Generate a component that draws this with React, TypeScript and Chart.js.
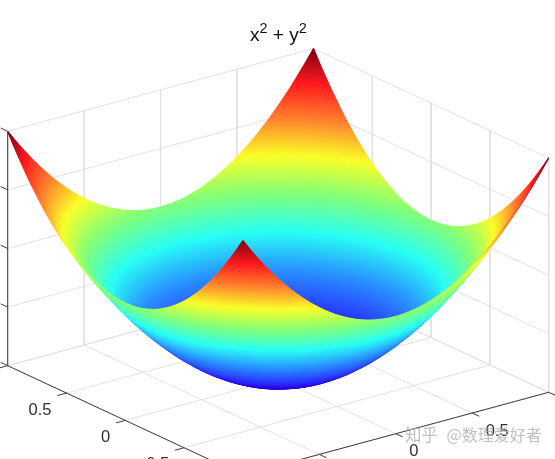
import React, { useEffect, useRef } from "react";
import { Chart, registerables } from "chart.js";

Chart.register(...registerables);

const gridNodes = [
  -1, -0.95, -0.9, -0.85, -0.8, -0.75, -0.7, -0.65, -0.6, -0.55, -0.5, -0.45, -0.4, -0.35, -0.3, -0.25, -0.2, -0.15, -0.1, -0.05, 0,
  0.05, 0.1, 0.15, 0.2, 0.25, 0.3, 0.35, 0.4, 0.45, 0.5, 0.55, 0.6, 0.65, 0.7, 0.75, 0.8, 0.85, 0.9, 0.95, 1,
];
const gridNodesSquared = [
  1, 0.9025, 0.81, 0.7225, 0.64, 0.5625, 0.49, 0.4225, 0.36, 0.3025, 0.25, 0.2025, 0.16, 0.1225, 0.09, 0.0625, 0.04, 0.0225, 0.01, 0.0025, 0,
  0.0025, 0.01, 0.0225, 0.04, 0.0625, 0.09, 0.1225, 0.16, 0.2025, 0.25, 0.3025, 0.36, 0.4225, 0.49, 0.5625, 0.64, 0.7225, 0.81, 0.9025, 1,
];
const axisTicks = [-1, -0.5, 0, 0.5, 1];
const zTicks = [0, 0.5, 1, 1.5, 2];
const yAxisLabels = ["0.5", "0", "-0.5"];
const yAxisLabelValues = [0.5, 0, -0.5];
const xAxisLabels = ["0", "0.5"];
const xAxisLabelValues = [0, 0.5];
const jetPositions = [0, 0.06, 0.125, 0.25, 0.375, 0.5, 0.625, 0.75, 0.875, 1];
const jetColors = [
  [30, 0, 150],
  [40, 0, 215],
  [40, 40, 255],
  [40, 140, 255],
  [40, 255, 245],
  [130, 255, 120],
  [250, 255, 40],
  [255, 130, 45],
  [255, 25, 30],
  [125, 0, 15],
];
const titleParts = [
  { text: "x", size: 19, rise: 0 },
  { text: "2", size: 14.5, rise: 8 },
  { text: " + y", size: 19, rise: 0 },
  { text: "2", size: 14.5, rise: 8 },
];
const watermarkBrand = "知乎";
const watermarkAuthor = "@数理爱好者";

const WIDTH = 555;
const HEIGHT = 459;
const ZMAX = 2;

// Orthographic view of the box, as read from its corners
function project(x: number, y: number, z: number) {
  const u = -y;
  const v = x;
  return {
    x: 278.2 + 117.6 * u + 152.9 * v,
    y: 379 + 54.7 * u - 41.4 * v - 117.2 * z,
  };
}

function jet(z: number) {
  const t = Math.min(1, Math.max(0, z / ZMAX));
  let k = 0;
  while (k < jetPositions.length - 2 && t > jetPositions[k + 1]) k++;
  const f = (t - jetPositions[k]) / (jetPositions[k + 1] - jetPositions[k]);
  const a = jetColors[k];
  const b = jetColors[k + 1];
  return `rgb(${Math.round(a[0] + (b[0] - a[0]) * f)},${Math.round(a[1] + (b[1] - a[1]) * f)},${Math.round(a[2] + (b[2] - a[2]) * f)})`;
}

function quadPaint(chart: any, i: number, j: number) {
  const zs = [
    gridNodesSquared[i] + gridNodesSquared[j],
    gridNodesSquared[i + 1] + gridNodesSquared[j],
    gridNodesSquared[i + 1] + gridNodesSquared[j + 1],
    gridNodesSquared[i] + gridNodesSquared[j + 1],
  ];
  const zc = (zs[0] + zs[1] + zs[2] + zs[3]) / 4;
  const sx = chart.scales.x;
  const sy = chart.scales.y;
  if (!sx || !sy) return jet(zc);
  const raw = [
    project(gridNodes[i], gridNodes[j], zs[0]),
    project(gridNodes[i + 1], gridNodes[j], zs[1]),
    project(gridNodes[i + 1], gridNodes[j + 1], zs[2]),
    project(gridNodes[i], gridNodes[j + 1], zs[3]),
  ];
  const p = raw.map((q) => ({ x: sx.getPixelForValue(q.x), y: sy.getPixelForValue(q.y) }));
  if (p.some((q) => !Number.isFinite(q.x) || !Number.isFinite(q.y))) return jet(zc);
  const cx = (p[0].x + p[1].x + p[2].x + p[3].x) / 4;
  const cy = (p[0].y + p[1].y + p[2].y + p[3].y) / 4;
  const ax = (p[1].x + p[2].x - p[0].x - p[3].x) / 2;
  const ay = (p[1].y + p[2].y - p[0].y - p[3].y) / 2;
  const bx = (p[2].x + p[3].x - p[0].x - p[1].x) / 2;
  const by = (p[2].y + p[3].y - p[0].y - p[1].y) / 2;
  const dza = (zs[1] + zs[2] - zs[0] - zs[3]) / 2;
  const dzb = (zs[2] + zs[3] - zs[0] - zs[1]) / 2;
  const det = ax * by - ay * bx;
  if (Math.abs(det) < 0.5) return jet(zc);
  const gx = (dza * by - dzb * ay) / det;
  const gy = (ax * dzb - bx * dza) / det;
  const g2 = gx * gx + gy * gy;
  if (g2 < 1e-10) return jet(zc);
  const zLo = Math.min(...zs);
  const zHi = Math.max(...zs);
  if (zHi - zLo < 1e-6) return jet(zc);
  const lo = (zLo - zc) / g2;
  const hi = (zHi - zc) / g2;
  const grad = chart.ctx.createLinearGradient(cx + gx * lo, cy + gy * lo, cx + gx * hi, cy + gy * hi);
  const steps = 4;
  for (let s = 0; s <= steps; s++) {
    grad.addColorStop(s / steps, jet(zLo + ((zHi - zLo) * s) / steps));
  }
  return grad;
}

function lineDataset(points: { x: number; y: number }[], color: string, width: number, order: number) {
  return {
    data: points,
    showLine: true,
    borderColor: color,
    borderWidth: width,
    pointRadius: 0,
    fill: false,
    order,
    clip: false as const,
  };
}

function buildDatasets() {
  const sets: any[] = [];
  const gridColor = "#e0e0e0";
  const GRID_ORDER = 100000;
  const AXIS_ORDER = -1;
  // Back walls and floor grid
  for (const t of axisTicks) {
    sets.push(lineDataset([project(1, t, ZMAX), project(1, t, 0), project(-1, t, 0)], gridColor, 1, GRID_ORDER));
    sets.push(lineDataset([project(t, 1, ZMAX), project(t, 1, 0), project(t, -1, 0)], gridColor, 1, GRID_ORDER));
  }
  for (const z of zTicks) {
    sets.push(lineDataset([project(-1, 1, z), project(1, 1, z), project(1, -1, z)], gridColor, 1, GRID_ORDER));
  }
  // Surface, far cells first
  const n = gridNodes.length - 1;
  let painted = 0;
  for (let vi = n - 1; vi >= 0; vi--) {
    for (let yi = n - 1; yi >= 0; yi--) {
      const i = vi;
      const j = yi;
      const corners = [
        project(gridNodes[i], gridNodes[j], gridNodesSquared[i] + gridNodesSquared[j]),
        project(gridNodes[i + 1], gridNodes[j], gridNodesSquared[i + 1] + gridNodesSquared[j]),
        project(gridNodes[i + 1], gridNodes[j + 1], gridNodesSquared[i + 1] + gridNodesSquared[j + 1]),
        project(gridNodes[i], gridNodes[j + 1], gridNodesSquared[i] + gridNodesSquared[j + 1]),
      ];
      corners.push(corners[0]);
      const paint = (c: any) => quadPaint(c.chart, i, j);
      sets.push({
        data: corners,
        showLine: true,
        fill: "shape",
        backgroundColor: paint,
        borderColor: paint,
        borderWidth: 1.3,
        borderJoinStyle: "bevel",
        pointRadius: 0,
        order: 50000 - painted,
        clip: false as const,
      });
      painted++;
    }
  }
  // Axis lines and ticks
  const axisColor = "#3c3c3c";
  sets.push(lineDataset([project(-1, 1, 0), project(-1, -1, 0), project(1, -1, 0)], axisColor, 1, AXIS_ORDER));
  sets.push(lineDataset([project(-1, 1, 0), project(-1, 1, ZMAX)], axisColor, 1, AXIS_ORDER));
  for (const t of axisTicks) {
    sets.push(lineDataset([project(-1, t, 0), project(-1.06, t, 0)], axisColor, 1, AXIS_ORDER));
    sets.push(lineDataset([project(t, -1, 0), project(t, -1.06, 0)], axisColor, 1, AXIS_ORDER));
  }
  for (const z of zTicks) {
    sets.push(lineDataset([project(-1, 1, z), project(-1, 1.06, z)], axisColor, 1, AXIS_ORDER));
  }
  return sets;
}

const textPlugin = {
  id: "axisText",
  afterDatasetsDraw(chart: any) {
    const { ctx, scales } = chart;
    const px = (q: { x: number; y: number }) => ({ x: scales.x.getPixelForValue(q.x), y: scales.y.getPixelForValue(q.y) });
    ctx.save();
    ctx.fillStyle = "#303030";
    ctx.textBaseline = "middle";
    ctx.font = '16.5px "Liberation Sans"';
    ctx.textAlign = "right";
    yAxisLabels.forEach((label, k) => {
      const p = px(project(-1, yAxisLabelValues[k], 0));
      ctx.fillText(label, p.x - 15, p.y + 17);
    });
    ctx.textAlign = "left";
    xAxisLabels.forEach((label, k) => {
      const p = px(project(xAxisLabelValues[k], -1, 0));
      ctx.fillText(label, p.x + 13.5, p.y + 18);
    });
    ctx.textBaseline = "alphabetic";
    ctx.fillStyle = "#111111";
    let tx = 250;
    for (const part of titleParts) {
      ctx.font = `${part.size}px "Liberation Sans"`;
      ctx.fillText(part.text, tx, 41 - part.rise);
      tx += ctx.measureText(part.text).width;
    }
    ctx.fillStyle = "rgba(175,175,175,0.8)";
    ctx.textBaseline = "middle";
    ctx.font = '16.5px "Noto Sans CJK SC"';
    ctx.fillText(watermarkBrand, 405, 435);
    ctx.font = '16px "Noto Sans CJK SC"';
    ctx.fillText(watermarkAuthor, 446.5, 435);
    ctx.restore();
  },
};

export default function App() {
  const ref = useRef<HTMLCanvasElement>(null);
  useEffect(() => {
    document.body.style.margin = "0";
    const chart = new Chart(ref.current as HTMLCanvasElement, {
      type: "scatter",
      data: { datasets: buildDatasets() },
      options: {
        animation: false,
        responsive: false,
        events: [],
        layout: { padding: 0 },
        plugins: { legend: { display: false }, tooltip: { enabled: false }, title: { display: false } },
        scales: {
          x: { type: "linear", min: 0, max: WIDTH, display: false },
          y: { type: "linear", min: 0, max: HEIGHT, reverse: true, display: false },
        },
      },
      plugins: [textPlugin],
    } as any);
    return () => chart.destroy();
  }, []);
  return (
    <div style={{ width: WIDTH, height: HEIGHT, background: "#fff", overflow: "hidden" }}>
      <canvas ref={ref} width={WIDTH} height={HEIGHT} style={{ display: "block", filter: "blur(0.45px)" }} />
    </div>
  );
}
